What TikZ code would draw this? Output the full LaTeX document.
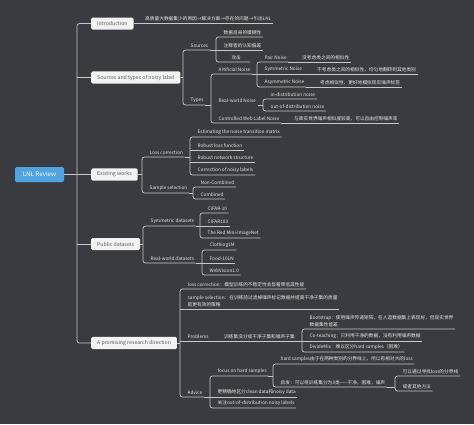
\documentclass[tikz,border=0pt]{standalone}
\usepackage{fontspec}
\setmainfont{Noto Sans CJK SC}
\definecolor{canvas}{RGB}{58,59,64}
\definecolor{link color}{RGB}{200,200,202}
\definecolor{leaf text}{RGB}{232,232,232}
\definecolor{box fill}{RGB}{242,242,242}
\definecolor{box text}{RGB}{90,90,92}
\definecolor{root fill}{RGB}{79,163,224}
\tikzset{
  link/.style={draw=link color, line width=0.7pt},
  bracket/.style={link, rounded corners=2.5pt},
  topic/.style={anchor=south west, xshift=6pt, inner xsep=1.5pt, inner ysep=2pt,
    text=leaf text, font=\fontsize{4.7}{7}\selectfont, align=left},
  mainbox/.style={anchor=west, fill=box fill, rounded corners=1.5pt, text=box text,
    minimum height=12pt, inner xsep=6pt, font=\fontsize{5.2}{6}\selectfont},
  rootbox/.style={fill=root fill, rounded corners=1.5pt, text=white, minimum width=49pt,
    minimum height=15pt, font=\fontsize{6.2}{7}\selectfont}
  }
\def\leaves{{(216,37)/s1/数据自身的模糊性}, {(216,50)/s2/注释者的认知偏差},
  {(183,50)/src/Sources}, {(183,105)/typ/Types},
  {(211,74)/t1/Artificial Noise}, {(211,105)/t2/Real-world Noise}, {(211,123)/t3/Controlled Web Label Noise},
  {(257,62)/a1/Pair Noise}, {(257,74)/a2/Symmetric Noise}, {(257,87)/a3/Asymmetric Noise},
  {(294.5,62)/a1x/没考虑类之间的相似性}, {(309.5,74)/a2x/不考虑类之间的相似性，均匀地翻转到其他类别},
  {(312.5,87)/a3x/考虑相似性，更好地模拟现实噪声标签}, {(286.5,123)/t3x/与真实世界噪声相似度较高，可以自由控制噪声率},
  {(263,99)/r1/in-distribution noise}, {(263,111)/r2/out-of-distribution noise},
  {(142,157)/w1/Loss correction}, {(142,193)/w2/Sample selection},
  {(190,137)/l1/Estimating the noise transition matrix}, {(190,150)/l2/Robust loss function},
  {(190,162)/l3/Robust network structure}, {(190,175)/l4/Correction of noisy labels},
  {(193,187)/c1/Non-Combined}, {(193,199)/c2/Combined},
  {(143,226)/d1/Symmetric datasets}, {(143,263)/d2/Real-world datasets},
  {(200,213)/e1/CIFAR-10}, {(200,226)/e2/CIFAR100}, {(200,238)/e3/The Red Mini-ImageNet},
  {(202,250)/f1/Clothing1M}, {(202,263)/f2/Food-101N}, {(202,275)/f3/WebVision1.0},
  {(180,289)/p1/loss correction：模型训练的不稳定性会显着降低其性能},
  {(180,341)/p3/Problems}, {(180,397)/p4/Advice},
  {(216.5,341)/prob/训练集没分成干净子集和噪声子集},
  {(302,341)/b2/Co-teaching：只利用干净的数据，没有利用噪声数据},
  {(302,352)/b3/DivideMix：难以区分hard samples（困难）},
  {(210,376)/v1/focus on hard samples}, {(210,397)/v2/更精确地区分clean data和noisy data},
  {(210,408)/v3/关注out-of-distribution noisy labels},
  {(273,364)/h1/hard samples由于在两种类别的分界线上，所以有相对大的loss},
  {(273,387)/h2/启发：可以将训练集分为3类——干净，困难，噪声},
  {(395,376)/k1/可以通过寻找loss的分界线}, {(395,391)/k2/或者其他方法}}
\def\brackets{src/typ, s1/s3, t1/t3, a1/a3, r1/r2, w1/w2, l1/l4, c1/c2, d1/d2, e1/e3, f1/f3, p1/p4, b1/b3, v1/v3, h1/h2, k1/k2}
\def\middles{s2, a2, l2, l3, e2, f2, p2, p3, b2, v2}
\def\reach{src/s1, typ/t1, t1/a1, t2/r1, w1/l1, w2/c1, d1/e1, d2/f1, prob/b1, p4/v1, v1/h1, h2/k1}
\begin{document}
\begin{tikzpicture}[x=1pt, y=-1pt]

  % The dark sheet
  \fill[canvas] (0,0) rectangle (474,424);

  % Root and main topics
  \node[rootbox] (root) at (39.5,174.5) {LNL Review};
  \coordinate (spine) at (77,174.5);
  \node[mainbox] (intro) at (91,23.5) {Introduction};
  \node[mainbox] (noisy) at (91,77.5) {Sources and types of noisy label};
  \node[mainbox] (works) at (91,174.5) {Existing works};
  \node[mainbox] (sets) at (91,244) {Public datasets};
  \node[mainbox] (future) at (91,343) {A promising research direction};

  % The subtopics
  \foreach \pos/\name/\txt in \leaves
    \node[topic] (\name) at \pos {\txt};
  \node[topic] (introx) at (137.5,23.5) {高质量大数据集少的原因→解决方案→存在的问题→引出LNL};
  \node[topic, minimum width=28pt] (s3) at (216,62) {攻击};
  \node[topic] (p2) at (180,309) {sample selection：在训练前过滤掉噪声标记数据并提高干净子集的质量\\是更有效的策略};
  \node[topic] (b1) at (302,329) {Bootstrap：使用噪声传递矩阵，在人造数据集上表现好，但现实世界\\数据集性能差};

  % The spine from the root
  \path[link] (root.east) -- (spine);
  \path[bracket] (intro.west) -- (intro.west -| spine) -- (future.west -| spine) -- (future.west);
  \foreach \n in {noisy, works, sets}
    \path[link] (spine |- \n.west) -- (\n.west);
  \path[link] (intro.east) -- (introx.south west) -- (introx.south east);

  % Boxes to their first brackets
  \foreach \parent/\child in {noisy/src, works/w1, sets/d1, future/p1}
    \path[link] (\parent.east) -- ([xshift=-6pt]\child.south west |- \parent.east);

  % The brackets
  \foreach \first/\last in \brackets
    \path[bracket] (\first.south east) -- ([xshift=-6pt]\first.south west)
      -- ([xshift=-6pt]\last.south west) -- (\last.south east);
  \foreach \n in \middles
    \path[link] ([xshift=-6pt]\n.south west) -- (\n.south east);
  \foreach \parent/\child in \reach
    \path[link] (\parent.south east) -- ([xshift=-6pt]\child.south west |- \parent.south east);

  % Single children on the same line
  \foreach \parent/\child in {a1/a1x, a2/a2x, a3/a3x, t3/t3x, p3/prob}
    \path[link] (\parent.south east) -- (\child.south east);

\end{tikzpicture}
\end{document}
